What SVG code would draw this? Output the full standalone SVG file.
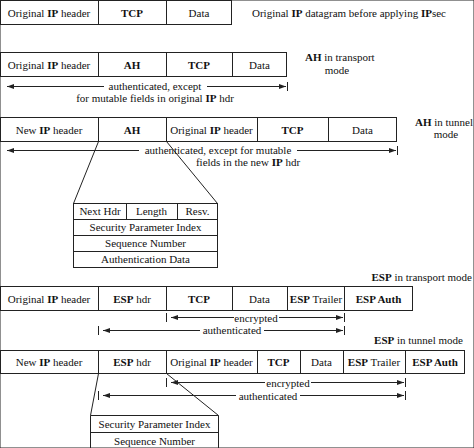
<svg xmlns="http://www.w3.org/2000/svg" width="474" height="448" viewBox="0 0 474 448" font-family="'Liberation Serif','Times New Roman',serif">
<defs>
<marker id="ah" markerWidth="8" markerHeight="6" refX="7" refY="2.5" orient="auto-start-reverse" markerUnits="userSpaceOnUse">
<path d="M0,0 L7,2.5 L0,5 z" fill="#222"/>
</marker>
<style>
text{font-family:"Liberation Serif","Times New Roman",serif;font-size:11px;fill:#111}
.c{text-anchor:middle}
.e{text-anchor:end}
.b{font-weight:bold}
rect,.ln{fill:none;stroke:#222;stroke-width:1}
.ar{fill:none;stroke:#222;stroke-width:1}
.tk{stroke:#222;stroke-width:1}
</style>
</defs>
<rect x="0" y="0" width="474" height="448" fill="#fff" stroke="none"/>

<g id="row1">
<rect x="0.5" y="0.5" width="231" height="24"/>
<line class="ln" x1="98.5" y1="0.5" x2="98.5" y2="24.5"/>
<line class="ln" x1="166.5" y1="0.5" x2="166.5" y2="24.5"/>
<text class="c" x="49" y="16.5">Original <tspan class="b">IP</tspan> header</text>
<text class="c b" x="132" y="16.5">TCP</text>
<text class="c" x="199" y="16.5">Data</text>
<text x="252" y="16.5">Original <tspan class="b">IP</tspan> datagram before applying <tspan class="b">IP</tspan>sec</text>
</g>

<g id="row2">
<rect x="0.5" y="52.5" width="286" height="24"/>
<line class="ln" x1="98.5" y1="52.5" x2="98.5" y2="76.5"/>
<line class="ln" x1="166.5" y1="52.5" x2="166.5" y2="76.5"/>
<line class="ln" x1="232.5" y1="52.5" x2="232.5" y2="76.5"/>
<text class="c" x="49" y="68.5">Original <tspan class="b">IP</tspan> header</text>
<text class="c b" x="132" y="68.5">AH</text>
<text class="c b" x="199" y="68.5">TCP</text>
<text class="c" x="259.5" y="68.5">Data</text>
<text x="305" y="61"><tspan class="b">AH</tspan> in transport</text>
<text class="c" x="337" y="74">mode</text>
<text class="c" x="155" y="89.5">authenticated, except</text>
<text class="c" x="155" y="102">for mutable fields in original <tspan class="b">IP</tspan> hdr</text>
</g>

<g id="row3">
<rect x="0.5" y="117.5" width="396" height="24"/>
<line class="ln" x1="98.5" y1="117.5" x2="98.5" y2="141.5"/>
<line class="ln" x1="166.5" y1="117.5" x2="166.5" y2="141.5"/>
<line class="ln" x1="257.5" y1="117.5" x2="257.5" y2="141.5"/>
<line class="ln" x1="328.5" y1="117.5" x2="328.5" y2="141.5"/>
<text class="c" x="49" y="133.5">New <tspan class="b">IP</tspan> header</text>
<text class="c b" x="132" y="133.5">AH</text>
<text class="c" x="211.5" y="133.5">Original <tspan class="b">IP</tspan> header</text>
<text class="c b" x="292.5" y="133.5">TCP</text>
<text class="c" x="362.5" y="133.5">Data</text>
<text class="e" x="473" y="126"><tspan class="b">AH</tspan> in tunnel</text>
<text class="c" x="446" y="138">mode</text>
<text class="c" x="218" y="154">authenticated, except for mutable</text>
<text class="c" x="248" y="166">fields in the new <tspan class="b">IP</tspan> hdr</text>
</g>

<g id="ah-header">
<rect x="73.5" y="203.5" width="144" height="64"/>
<line class="ln" x1="73.5" y1="219.5" x2="217.5" y2="219.5"/>
<line class="ln" x1="73.5" y1="235.5" x2="217.5" y2="235.5"/>
<line class="ln" x1="73.5" y1="251.5" x2="217.5" y2="251.5"/>
<line class="ln" x1="126.5" y1="203.5" x2="126.5" y2="219.5"/>
<line class="ln" x1="177.5" y1="203.5" x2="177.5" y2="219.5"/>
<text class="c" x="100" y="215">Next Hdr</text>
<text class="c" x="151.5" y="215">Length</text>
<text class="c" x="197.5" y="215">Resv.</text>
<text class="c" x="145.5" y="231">Security Parameter Index</text>
<text class="c" x="145.5" y="247">Sequence Number</text>
<text class="c" x="145.5" y="263">Authentication Data</text>
</g>

<g id="row4">
<text class="e" x="472" y="281"><tspan class="b">ESP</tspan> in transport mode</text>
<rect x="0.5" y="286.5" width="412" height="24"/>
<line class="ln" x1="98.5" y1="286.5" x2="98.5" y2="310.5"/>
<line class="ln" x1="166.5" y1="286.5" x2="166.5" y2="310.5"/>
<line class="ln" x1="232.5" y1="286.5" x2="232.5" y2="310.5"/>
<line class="ln" x1="287.5" y1="286.5" x2="287.5" y2="310.5"/>
<line class="ln" x1="344.5" y1="286.5" x2="344.5" y2="310.5"/>
<text class="c" x="49" y="302.5">Original <tspan class="b">IP</tspan> header</text>
<text class="c" x="132" y="302.5"><tspan class="b">ESP</tspan> hdr</text>
<text class="c b" x="199" y="302.5">TCP</text>
<text class="c" x="259.5" y="302.5">Data</text>
<text class="c" x="316" y="302.5"><tspan class="b">ESP</tspan> Trailer</text>
<text class="c b" x="378.5" y="302.5">ESP Auth</text>
<text class="c" x="256" y="321.5">encrypted</text>
<text class="c" x="232" y="334">authenticated</text>
</g>

<g id="row5">
<text class="e" x="463" y="344"><tspan class="b">ESP</tspan> in tunnel mode</text>
<rect x="0.5" y="350.5" width="464" height="23"/>
<line class="ln" x1="98.5" y1="350.5" x2="98.5" y2="373.5"/>
<line class="ln" x1="166.5" y1="350.5" x2="166.5" y2="373.5"/>
<line class="ln" x1="257.5" y1="350.5" x2="257.5" y2="373.5"/>
<line class="ln" x1="300.5" y1="350.5" x2="300.5" y2="373.5"/>
<line class="ln" x1="343.5" y1="350.5" x2="343.5" y2="373.5"/>
<line class="ln" x1="405.5" y1="350.5" x2="405.5" y2="373.5"/>
<text class="c" x="49" y="366">New <tspan class="b">IP</tspan> header</text>
<text class="c" x="132" y="366"><tspan class="b">ESP</tspan> hdr</text>
<text class="c" x="211.5" y="366">Original <tspan class="b">IP</tspan> header</text>
<text class="c b" x="278.5" y="366">TCP</text>
<text class="c" x="321.5" y="366">Data</text>
<text class="c" x="374" y="366"><tspan class="b">ESP</tspan> Trailer</text>
<text class="c b" x="435" y="366">ESP Auth</text>
<text class="c" x="288" y="386.5">encrypted</text>
<text class="c" x="268" y="399.5">authenticated</text>
</g>

<g id="esp-header">
<path class="ln" d="M90.5,448 V415.5 H218.5 V448"/>
<line class="ln" x1="90.5" y1="432.5" x2="218.5" y2="432.5"/>
<text class="c" x="154.5" y="427.5">Security Parameter Index</text>
<text class="c" x="154.5" y="444.5">Sequence Number</text>
</g>

<g id="connectors">
<polyline class="ar" points="104,86.5 7,86.5" marker-end="url(#ah)"/>
<polyline class="ar" points="207,86.5 286,86.5" marker-end="url(#ah)"/>
<line class="tk" x1="287.5" y1="82" x2="287.5" y2="91"/>
<polyline class="ar" points="139,150.5 7,150.5" marker-end="url(#ah)"/>
<polyline class="ar" points="297,150.5 396,150.5" marker-end="url(#ah)"/>
<line class="tk" x1="397.5" y1="146" x2="397.5" y2="155"/>
<line class="ln" x1="98.5" y1="141.5" x2="73.5" y2="203.5"/>
<line class="ln" x1="166.5" y1="141.5" x2="217.5" y2="203.5"/>
<line class="tk" x1="166.5" y1="313" x2="166.5" y2="322"/>
<polyline class="ar" points="234,317.5 171,317.5" marker-end="url(#ah)"/>
<polyline class="ar" points="279,317.5 343,317.5" marker-end="url(#ah)"/>
<line class="tk" x1="344.5" y1="313" x2="344.5" y2="322"/>
<line class="tk" x1="98.5" y1="326" x2="98.5" y2="335"/>
<polyline class="ar" points="200,330.5 103,330.5" marker-end="url(#ah)"/>
<polyline class="ar" points="264,330.5 343,330.5" marker-end="url(#ah)"/>
<line class="tk" x1="344.5" y1="326" x2="344.5" y2="335"/>
<line class="tk" x1="166.5" y1="378" x2="166.5" y2="387"/>
<polyline class="ar" points="265,382.5 171,382.5" marker-end="url(#ah)"/>
<polyline class="ar" points="311,382.5 404,382.5" marker-end="url(#ah)"/>
<line class="tk" x1="405.5" y1="378" x2="405.5" y2="387"/>
<line class="tk" x1="98.5" y1="391" x2="98.5" y2="400"/>
<polyline class="ar" points="236,395.5 103,395.5" marker-end="url(#ah)"/>
<polyline class="ar" points="300,395.5 404,395.5" marker-end="url(#ah)"/>
<line class="tk" x1="405.5" y1="391" x2="405.5" y2="400"/>
<line class="ln" x1="98.5" y1="373.5" x2="90.5" y2="415.5"/>
<line class="ln" x1="166.5" y1="373.5" x2="218.5" y2="415.5"/>
</g>
</svg>
